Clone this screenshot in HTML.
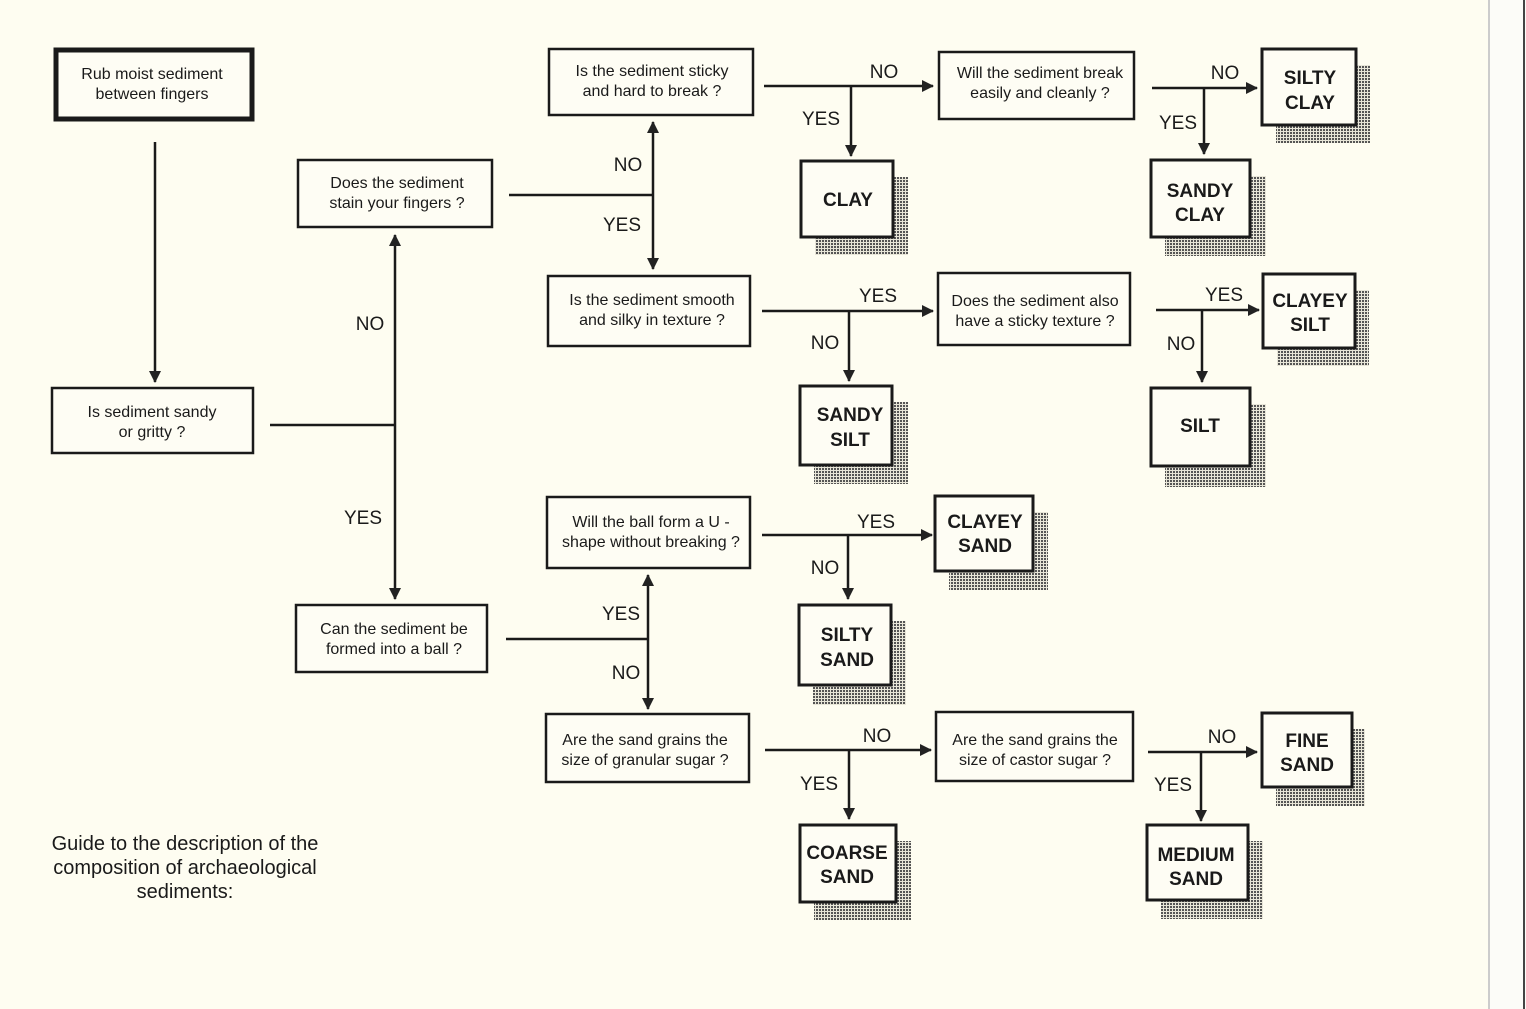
<!DOCTYPE html>
<html><head><style>
html,body{margin:0;padding:0;background:#fefdf1;}
svg{display:block}
text{font-family:"Liberation Sans",sans-serif;fill:#1a1a1a}
.q{font-size:16px}
.r{font-size:19px;font-weight:bold}
.l{font-size:19px}
</style></head><body>
<svg width="1526" height="1009" xmlns="http://www.w3.org/2000/svg">
<defs>
<pattern id="dots" width="3" height="3" patternUnits="userSpaceOnUse">
<rect width="3" height="3" fill="#e8e6d8"/><rect width="2" height="2" fill="#555"/>
</pattern>
<marker id="a" markerWidth="12" markerHeight="12" refX="11" refY="6" orient="auto" markerUnits="userSpaceOnUse"><path d="M0,0 L12,6 L0,12 z" fill="#222"/></marker>
</defs>
<rect width="1526" height="1009" fill="#fefdf1"/>
<rect x="1490" y="0" width="36" height="1009" fill="#fcfcf8"/>
<line x1="1489" y1="0" x2="1489" y2="1009" stroke="#ccc" stroke-width="2"/>
<line x1="1524" y1="0" x2="1524" y2="1009" stroke="#444" stroke-width="2"/>

<g stroke="#1a1a1a" stroke-width="2.5" fill="none">
<line x1="155" y1="142" x2="155" y2="382" marker-end="url(#a)"/>
<line x1="270" y1="425" x2="395" y2="425"/>
<line x1="395" y1="425" x2="395" y2="235" marker-end="url(#a)"/>
<line x1="395" y1="425" x2="395" y2="599" marker-end="url(#a)"/>
<line x1="509" y1="195" x2="653" y2="195"/>
<line x1="653" y1="195" x2="653" y2="122" marker-end="url(#a)"/>
<line x1="653" y1="195" x2="653" y2="269" marker-end="url(#a)"/>
<line x1="764" y1="86" x2="933" y2="86" marker-end="url(#a)"/>
<line x1="851" y1="86" x2="851" y2="156" marker-end="url(#a)"/>
<line x1="1152" y1="88" x2="1257" y2="88" marker-end="url(#a)"/>
<line x1="1204" y1="88" x2="1204" y2="154" marker-end="url(#a)"/>
<line x1="762" y1="311" x2="933" y2="311" marker-end="url(#a)"/>
<line x1="849" y1="311" x2="849" y2="381" marker-end="url(#a)"/>
<line x1="1156" y1="310" x2="1259" y2="310" marker-end="url(#a)"/>
<line x1="1202" y1="310" x2="1202" y2="382" marker-end="url(#a)"/>
<line x1="506" y1="639" x2="648" y2="639"/>
<line x1="648" y1="639" x2="648" y2="575" marker-end="url(#a)"/>
<line x1="648" y1="639" x2="648" y2="709" marker-end="url(#a)"/>
<line x1="762" y1="535" x2="932" y2="535" marker-end="url(#a)"/>
<line x1="848" y1="535" x2="848" y2="599" marker-end="url(#a)"/>
<line x1="765" y1="750" x2="931" y2="750" marker-end="url(#a)"/>
<line x1="849" y1="750" x2="849" y2="819" marker-end="url(#a)"/>
<line x1="1148" y1="752" x2="1257" y2="752" marker-end="url(#a)"/>
<line x1="1201" y1="752" x2="1201" y2="821" marker-end="url(#a)"/>
</g>

<g fill="#fefdf4" stroke="#1a1a1a" stroke-width="2.5">
<rect x="56" y="50" width="196" height="69" stroke-width="5"/>
<rect x="52" y="388" width="201" height="65"/>
<rect x="298" y="160" width="194" height="67"/>
<rect x="296" y="605" width="191" height="67"/>
<rect x="549" y="49" width="204" height="66"/>
<rect x="548" y="276" width="202" height="70"/>
<rect x="547" y="497" width="203" height="71"/>
<rect x="546" y="714" width="203" height="68"/>
<rect x="939" y="52" width="195" height="67"/>
<rect x="938" y="273" width="192" height="72"/>
<rect x="936" y="712" width="197" height="69"/>
</g>

<g fill="url(#dots)">
<rect x="815" y="177" width="93" height="78"/>
<rect x="1276" y="65" width="94" height="78"/>
<rect x="1165" y="176" width="101" height="80"/>
<rect x="1277" y="290" width="92" height="76"/>
<rect x="814" y="402" width="94" height="82"/>
<rect x="1165" y="404" width="101" height="83"/>
<rect x="949" y="512" width="99" height="78"/>
<rect x="813" y="621" width="93" height="84"/>
<rect x="1276" y="729" width="89" height="77"/>
<rect x="814" y="841" width="97" height="79"/>
<rect x="1161" y="841" width="102" height="78"/>
</g>
<g fill="#fefdf4" stroke="#1a1a1a" stroke-width="3">
<rect x="801" y="161" width="92" height="76"/>
<rect x="1262" y="49" width="94" height="76"/>
<rect x="1151" y="160" width="99" height="77"/>
<rect x="1263" y="274" width="92" height="74"/>
<rect x="800" y="386" width="92" height="79"/>
<rect x="1151" y="388" width="99" height="78"/>
<rect x="935" y="496" width="98" height="75"/>
<rect x="799" y="605" width="92" height="80"/>
<rect x="1262" y="713" width="90" height="74"/>
<rect x="800" y="825" width="96" height="77"/>
<rect x="1147" y="825" width="101" height="75"/>
</g>

<g class="q" text-anchor="middle">
<text x="152" y="79">Rub moist sediment</text><text x="152" y="99">between fingers</text>
<text x="152" y="417">Is sediment sandy</text><text x="152" y="437">or gritty ?</text>
<text x="397" y="188">Does the sediment</text><text x="397" y="208">stain your fingers ?</text>
<text x="394" y="634">Can the sediment be</text><text x="394" y="654">formed into a ball ?</text>
<text x="652" y="76">Is the sediment sticky</text><text x="652" y="96">and hard to break ?</text>
<text x="652" y="305">Is the sediment smooth</text><text x="652" y="325">and silky in texture ?</text>
<text x="651" y="527">Will the ball form a U -</text><text x="651" y="547">shape without breaking ?</text>
<text x="645" y="745">Are the sand grains the</text><text x="645" y="765">size of granular sugar ?</text>
<text x="1040" y="78">Will the sediment break</text><text x="1040" y="98">easily and cleanly ?</text>
<text x="1035" y="306">Does the sediment also</text><text x="1035" y="326">have a sticky texture ?</text>
<text x="1035" y="745">Are the sand grains the</text><text x="1035" y="765">size of castor sugar ?</text>
</g>

<g class="r" text-anchor="middle">
<text x="848" y="206">CLAY</text>
<text x="1310" y="84">SILTY</text><text x="1310" y="109">CLAY</text>
<text x="1200" y="197">SANDY</text><text x="1200" y="221">CLAY</text>
<text x="1310" y="307">CLAYEY</text><text x="1310" y="331">SILT</text>
<text x="850" y="421">SANDY</text><text x="850" y="446">SILT</text>
<text x="1200" y="432">SILT</text>
<text x="985" y="528">CLAYEY</text><text x="985" y="552">SAND</text>
<text x="847" y="641">SILTY</text><text x="847" y="666">SAND</text>
<text x="1307" y="747">FINE</text><text x="1307" y="771">SAND</text>
<text x="847" y="859">COARSE</text><text x="847" y="883">SAND</text>
<text x="1196" y="861">MEDIUM</text><text x="1196" y="885">SAND</text>
</g>

<g class="l" text-anchor="middle">
<text x="370" y="330">NO</text><text x="363" y="524">YES</text>
<text x="628" y="171">NO</text><text x="622" y="231">YES</text>
<text x="884" y="78">NO</text><text x="821" y="125">YES</text>
<text x="1225" y="79">NO</text><text x="1178" y="129">YES</text>
<text x="878" y="302">YES</text><text x="825" y="349">NO</text>
<text x="1224" y="301">YES</text><text x="1181" y="350">NO</text>
<text x="621" y="620">YES</text><text x="626" y="679">NO</text>
<text x="876" y="528">YES</text><text x="825" y="574">NO</text>
<text x="877" y="742">NO</text><text x="819" y="790">YES</text>
<text x="1222" y="743">NO</text><text x="1173" y="791">YES</text>
</g>

<g style="font-size:20px" text-anchor="middle">
<text x="185" y="850">Guide to the description of the</text>
<text x="185" y="874">composition of archaeological</text>
<text x="185" y="898">sediments:</text>
</g>
</svg>
</body></html>
